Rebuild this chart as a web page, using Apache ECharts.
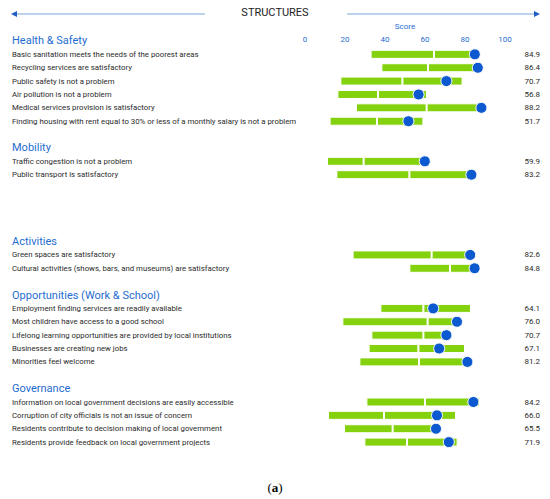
<!DOCTYPE html>
<html><head><meta charset="utf-8">
<script src="https://cdn.jsdelivr.net/npm/echarts@6/dist/echarts.min.js"></script>
<style>html,body{margin:0;padding:0;background:#fff}#c{width:550px;height:499px}</style>
</head><body><div id="c"></div>
<script>
const categories = [
  'Health & Safety',
  'Basic sanitation meets the needs of the poorest areas',
  'Recycling services are satisfactory',
  'Public safety is not a problem',
  'Air pollution is not a problem',
  'Medical services provision is satisfactory',
  'Finding housing with rent equal to 30% or less of a monthly salary is not a problem',
  ' ',
  'Mobility',
  'Traffic congestion is not a problem',
  'Public transport is satisfactory',
  '  ', '   ', '    ', '     ',
  'Activities',
  'Green spaces are satisfactory',
  'Cultural activities (shows, bars, and museums) are satisfactory',
  '      ',
  'Opportunities (Work & School)',
  'Employment finding services are readily available',
  'Most children have access to a good school',
  'Lifelong learning opportunities are provided by local institutions',
  'Businesses are creating new jobs',
  'Minorities feel welcome',
  '       ',
  'Governance',
  'Information on local government decisions are easily accessible',
  'Corruption of city officials is not an issue of concern',
  'Residents contribute to decision making of local government',
  'Residents provide feedback on local government projects'
];
const headers = ['Health & Safety', 'Mobility', 'Activities', 'Opportunities (Work & School)', 'Governance'];
const minVals = [null, 32.8, 38.2, 17.7, 16.2, 25.5, 12.3, null, null, 11.0, 15.7, null, null, null, null,
  null, 23.8, 52.2, null, null, 37.7, 18.7, 33.2, 31.8, 27.2, null, null, 30.7, 11.5, 19.5, 29.7];
const medianVals = [null, 64.5, 61.5, 48.7, 36.5, 60.8, 36.0, null, null, 29.3, 52.2, null, null, null, null,
  null, 63.3, 72.5, null, null, 59.2, 61.3, 59.2, 56.7, 57.0, null, null, 60.0, 39.5, 43.8, 51.0];
const maxVals = [null, 87.2, 88.3, 78.8, 61.0, 89.2, 59.2, null, null, 58.3, 84.2, null, null, null, null,
  null, 83.3, 86.7, null, null, 83.0, 78.3, 73.3, 80.0, 82.0, null, null, 87.5, 75.5, 66.5, 76.3];
const scores = [null, 84.9, 86.4, 70.7, 56.8, 88.2, 51.7, null, null, 59.9, 83.2, null, null, null, null,
  null, 82.6, 84.8, null, null, 64.1, 76.0, 70.7, 67.1, 81.2, null, null, 84.2, 66.0, 65.5, 71.9];
const xTicks = [0, 20, 40, 60, 80, 100];

const FONT = 'Roboto';
const BLUE = '#1f6dd0';
const GREEN = '#84d10e';
const DOT = '#0d59cf';

const baseData = minVals.map(v => v == null ? null : v);
const lowData = minVals.map((v, i) => v == null ? null : +(medianVals[i] - v).toFixed(2));
const highData = maxVals.map((v, i) => v == null ? null : +(v - medianVals[i]).toFixed(2));

const chart = echarts.init(document.getElementById('c'), null, {renderer: 'svg'});
chart.setOption({
  animation: false,
  textStyle: {fontFamily: FONT},
  grid: {left: 305, right: 45, top: 34.3, bottom: 50.2, containLabel: false, outerBoundsMode: 'none'},
  xAxis: {
    type: 'value', position: 'top', min: xTicks[0], max: xTicks[xTicks.length - 1], interval: 20,
    offset: -12,
    name: 'Score', nameLocation: 'middle', nameGap: 14,
    nameTextStyle: {color: BLUE, fontSize: 8, fontFamily: FONT},
    axisLine: {show: false}, axisTick: {show: false}, splitLine: {show: false},
    axisLabel: {color: BLUE, fontSize: 8, margin: 3, fontFamily: FONT}
  },
  yAxis: [{
    type: 'category', inverse: true, data: categories, position: 'left',
    axisLine: {show: false}, axisTick: {show: false}, splitLine: {show: false},
    axisLabel: {
      interval: 0, align: 'left', margin: 293, fontFamily: FONT,
      formatter: v => {
        if (!v.trim()) return '';
        return headers.indexOf(v) >= 0 ? '{h|' + v + '}' : '{n|' + v + '}';
      },
      rich: {
        h: {fontSize: 11, color: BLUE, fontFamily: FONT},
        n: {fontSize: 7.8, color: '#2b2b2b', fontFamily: FONT}
      }
    }
  }, {
    type: 'category', inverse: true, data: categories, position: 'right',
    axisLine: {show: false}, axisTick: {show: false}, splitLine: {show: false},
    axisLabel: {
      interval: 0, align: 'right', margin: 35, fontSize: 8, color: '#2b2b2b', fontFamily: FONT,
      formatter: (v, i) => scores[i] == null ? '' : scores[i].toFixed(1)
    }
  }],
  series: [{
    type: 'bar', stack: 'r', data: baseData, barWidth: 9, silent: true,
    itemStyle: {color: 'rgba(0,0,0,0)'}
  }, {
    type: 'bar', stack: 'r', data: lowData, barWidth: 9,
    itemStyle: {color: GREEN, borderColor: '#fff', borderWidth: 1}
  }, {
    type: 'bar', stack: 'r', data: highData, barWidth: 9,
    itemStyle: {color: GREEN, borderColor: '#fff', borderWidth: 1}
  }, {
    type: 'scatter', data: scores, symbolSize: 11, z: 5,
    itemStyle: {color: DOT, borderColor: '#fff', borderWidth: 1, opacity: 1}
  }],
  graphic: [
    {type: 'text', left: 'center', top: 7, style: {text: 'STRUCTURES', fontSize: 11, fill: '#222', fontFamily: FONT}},
    {type: 'line', shape: {x1: 16, y1: 14, x2: 205, y2: 14}, style: {stroke: '#a8c3e8', lineWidth: 1.5}},
    {type: 'polygon', shape: {points: [[11, 14], [17, 11], [17, 17]]}, style: {fill: '#1f5fc4'}},
    {type: 'line', shape: {x1: 347, y1: 14, x2: 535, y2: 14}, style: {stroke: '#a8c3e8', lineWidth: 1.5}},
    {type: 'polygon', shape: {points: [[540, 14], [534, 11], [534, 17]]}, style: {fill: '#1f5fc4'}},
    {type: 'text', x: 275, y: 487, style: {
      text: '({b|a})', fontSize: 13, fill: '#000', fontFamily: 'Liberation Serif',
      align: 'center', verticalAlign: 'middle',
      rich: {b: {fontSize: 13, fontWeight: 'bold', fontFamily: 'Liberation Serif', fill: '#000'}}
    }}
  ]
});
</script></body></html>
